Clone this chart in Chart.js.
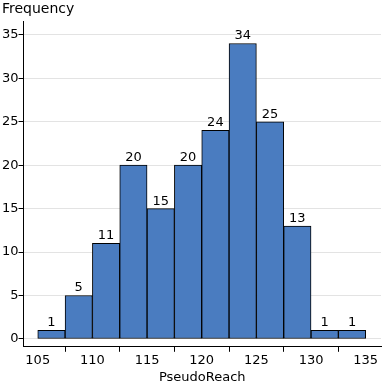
<!DOCTYPE html>
<html>
<head>
<meta charset="utf-8">
<script src="https://cdn.jsdelivr.net/npm/chart.js@4/dist/chart.umd.min.js"></script>
<style>
  html, body { margin: 0; padding: 0; background: #fff; }
  #wrap { width: 385px; height: 385px; }
</style>
</head>
<body>
<div id="wrap"><canvas id="histo"></canvas></div>
<script>
// Histograma de PseudoReach: centros de clase y frecuencias
const binCenters = [106.25, 108.75, 111.25, 113.75, 116.25, 118.75, 121.25, 123.75, 126.25, 128.75, 131.25, 133.75];
const frequencies = [1, 5, 11, 20, 15, 20, 24, 34, 25, 13, 1, 1];
const xTicks = [105, 110, 115, 120, 125, 130, 135];
const yTicks = [0, 5, 10, 15, 20, 25, 30, 35];

const FONT = 'Verdana, "DejaVu Sans", sans-serif';

// etiquetas encima de cada barra
const barLabels = {
  id: 'barLabels',
  afterDatasetsDraw(chart) {
    const ctx = chart.ctx;
    const meta = chart.getDatasetMeta(0);
    ctx.save();
    ctx.font = '13px ' + FONT;
    ctx.fillStyle = '#000';
    ctx.textAlign = 'center';
    ctx.textBaseline = 'bottom';
    meta.data.forEach((bar, i) => {
      ctx.fillText(String(frequencies[i]), bar.x, bar.y - 1);
    });
    ctx.restore();
  }
};

new Chart(document.getElementById('histo').getContext('2d'), {
  type: 'bar',
  data: {
    datasets: [{
      data: binCenters.map((c, i) => ({ x: c, y: frequencies[i] })),
      backgroundColor: '#4a7cc0',
      borderColor: '#000',
      borderWidth: 1,
      borderSkipped: false,
      barPercentage: 1,
      categoryPercentage: 1
    }]
  },
  options: {
    responsive: true,
    maintainAspectRatio: false,
    animation: false,
    layout: { padding: { left: 2, right: 4, top: 0, bottom: 0 } },
    plugins: {
      legend: { display: false },
      tooltip: { enabled: false },
      title: {
        display: true,
        text: 'Frequency',
        align: 'start',
        color: '#000',
        font: { family: FONT, size: 14, weight: 'normal' },
        padding: { top: 1, bottom: 4 }
      }
    },
    scales: {
      x: {
        type: 'linear',
        min: 103.7,
        max: 136.4,
        offset: false,
        afterBuildTicks: axis => { axis.ticks = xTicks.map(v => ({ value: v })); },
        grid: { drawOnChartArea: false, drawTicks: true, tickLength: 5, tickColor: '#000' },
        border: { color: '#000', width: 1 },
        ticks: { color: '#000', font: { family: FONT, size: 13 }, padding: 1, maxRotation: 0 },
        title: {
          display: true,
          text: 'PseudoReach',
          color: '#000',
          font: { family: FONT, size: 13 },
          padding: { top: 0, bottom: 0 }
        }
      },
      y: {
        min: -0.9,
        max: 36.5,
        afterBuildTicks: axis => { axis.ticks = yTicks.map(v => ({ value: v })); },
        grid: { color: '#e3e3e3', drawTicks: true, tickLength: 5, tickColor: '#000' },
        border: { color: '#000', width: 1 },
        ticks: { color: '#000', font: { family: FONT, size: 13 }, padding: 0 }
      }
    }
  },
  plugins: [barLabels]
});
</script>
</body>
</html>
